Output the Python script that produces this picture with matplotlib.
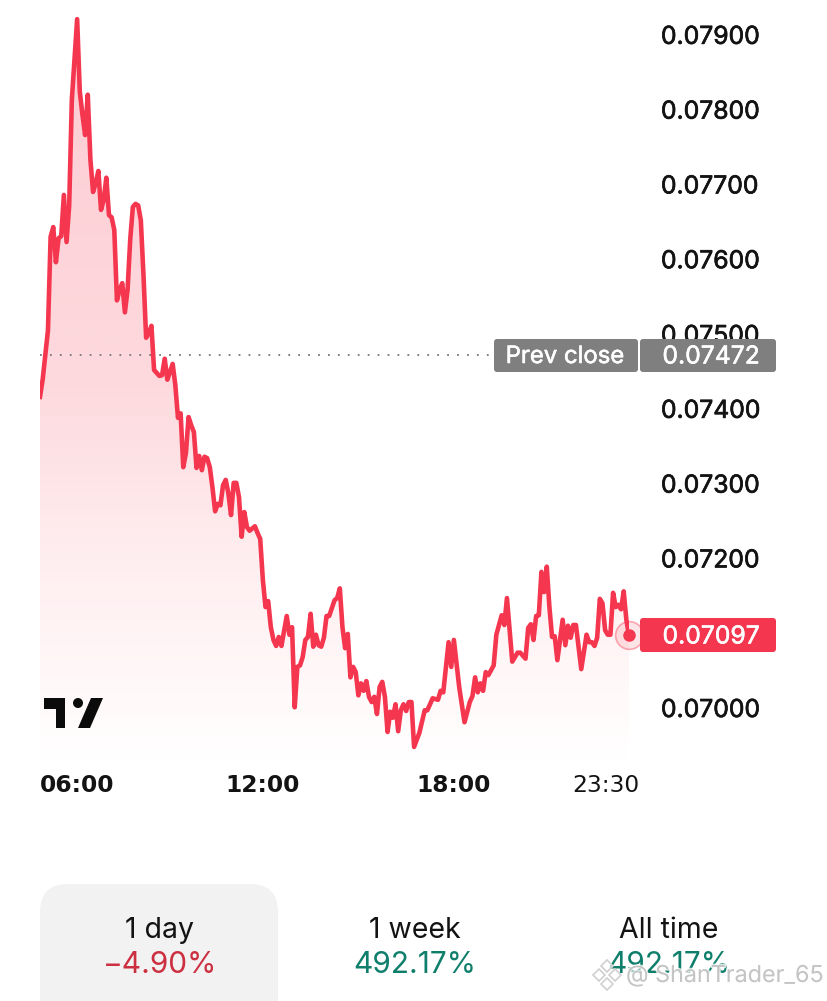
import numpy as np
import matplotlib
matplotlib.use("Agg")
import matplotlib.pyplot as plt
from matplotlib.patches import FancyBboxPatch, Polygon, Circle, Rectangle
from matplotlib.colors import LinearSegmentedColormap
import matplotlib.patheffects as pe

# 5 minute bars, counted from 05:00
bars = [0, 1, 3, 4, 5, 6, 7, 8, 9, 10, 11, 12, 13, 14, 15, 16, 17, 18, 19, 20,
        21, 22, 23, 24, 25, 26, 27, 28, 29, 30, 31, 32, 33, 34, 35, 36, 37, 38, 39, 40,
        41, 42, 43, 44, 45, 46, 47, 48, 50, 51, 52, 53, 54, 55, 56, 57, 58, 59, 60, 61,
        62, 63, 64, 65, 66, 67, 68, 69, 70, 71, 72, 73, 74, 75, 76, 77, 78, 79, 81, 82,
        83, 84, 85, 86, 87, 88, 89, 90, 91, 93, 94, 95, 96, 97, 98, 99, 100, 101, 102, 103,
        104, 105, 106, 107, 108, 109, 111, 112, 113, 114, 115, 116, 117, 118, 119, 120, 121, 122, 123, 124,
        125, 126, 127, 128, 129, 130, 131, 132, 133, 134, 135, 136, 137, 138, 139, 140, 141, 143, 145, 146,
        148, 150, 151, 152, 154, 155, 156, 158, 160, 162, 163, 164, 165, 166, 167, 168, 169, 171, 172, 174,
        175, 176, 178, 180, 181, 183, 184, 185, 186, 187, 188, 189, 190, 191, 192, 193, 194, 195, 197, 198,
        199, 200, 201, 202, 204, 206, 207, 208, 209, 210, 211, 212, 213, 214, 215, 216, 217, 218, 219, 220,
        221, 222]
prices = [.07416, .07439, .07505, .07630, .07643, .07596, .07628, .07631, .07686, .07623,
          .07672, .07813, .07866, .07921, .07824, .07793, .07766, .07820, .07733, .07690,
          .07702, .07718, .07666, .07679, .07709, .07659, .07656, .07639, .07545, .07559,
          .07568, .07529, .07559, .07626, .07670, .07674, .07672, .07652, .07579, .07495,
          .07501, .07511, .07452, .07448, .07444, .07445, .07467, .07439, .07460, .07432,
          .07388, .07394, .07322, .07341, .07389, .07378, .07369, .07321, .07337, .07318,
          .07336, .07334, .07322, .07295, .07263, .07273, .07271, .07298, .07305, .07287,
          .07258, .07301, .07301, .07282, .07229, .07262, .07242, .07237, .07243, .07234,
          .07226, .07171, .07135, .07143, .07108, .07091, .07083, .07095, .07083, .07123,
          .07098, .07108, .07001, .07055, .07057, .07068, .07091, .07095, .07126, .07082,
          .07098, .07084, .07082, .07094, .07123, .07123, .07144, .07147, .07160, .07108,
          .07080, .07099, .07041, .07055, .07048, .07017, .07033, .07023, .07036, .07015,
          .07008, .07015, .06992, .07028, .07035, .07015, .06968, .06995, .06987, .07005,
          .06969, .06997, .07005, .06996, .07008, .07008, .06948, .06967, .06997, .06997,
          .07013, .07011, .07023, .07021, .07088, .07055, .07091, .07028, .06981, .07008,
          .07016, .07041, .07021, .07033, .07023, .07048, .07044, .07057, .07098, .07124,
          .07111, .07147, .07062, .07074, .07074, .07066, .07107, .07112, .07091, .07123,
          .07124, .07182, .07155, .07189, .07135, .07095, .07096, .07064, .07118, .07084,
          .07110, .07094, .07111, .07111, .07052, .07098, .07088, .07088, .07083, .07094,
          .07146, .07140, .07104, .07098, .07098, .07154, .07135, .07138, .07132, .07156,
          .07118, .07097]
prev_close = 0.07472
last_price = 0.07097

y_ticks = [0.07000, 0.07200, 0.07300, 0.07400, 0.07500, 0.07600, 0.07700, 0.07800, 0.07900]
time_labels = ["06:00", "12:00", "18:00", "23:30"]
periods = ["1 day", "1 week", "All time"]
changes = ["\u22124.90%", "492.17%", "492.17%"]

RED = "#f5364f"
W, H = 828, 1001
plt.rcParams["font.family"] = ["Inter", "DejaVu Sans"]

minutes = 300 + 5 * np.array(bars)
prices = np.array(prices)

fig = plt.figure(figsize=(W / 100, H / 100), dpi=100, facecolor="white")
ax = fig.add_axes([40 / W, (H - 760) / H, 589 / W, 760 / H])
ax.set_xlim(300, 1410)
ax.set_ylim(0.069305, 0.079466)
for s in ax.spines.values():
    s.set_visible(False)

# area under the line fades out to white
cmap = LinearSegmentedColormap.from_list(
    "fade", [(0, "#fdccd3"), (0.5, "#fdd9dd"), (0.75, "#ffeff1"), (0.93, "#fffafa"), (1, "#ffffff")])
grad = ax.imshow(np.linspace(0, 1, 256).reshape(-1, 1), cmap=cmap, aspect="auto",
                 extent=[300, 1410, 0.069305, 0.079466], origin="upper", zorder=1)
area = ax.fill_between(minutes, prices, 0.069305, color="none")
grad.set_clip_path(area.get_paths()[0], transform=ax.transData)

ax.plot([300, 1157], [prev_close, prev_close], color="#777777", lw=1.3,
        linestyle=(0, (1, 4.5)), zorder=2)
ax.plot(minutes, prices, color=RED, lw=3.3, solid_joinstyle="round", zorder=3)
ax.plot([1410], [last_price], "o", ms=20, mfc="#f5364f22", mec="#f5364f66", mew=1.2,
        clip_on=False, zorder=4)
ax.plot([1410], [last_price], "o", ms=8, color=RED, clip_on=False, zorder=5)

ax.yaxis.tick_right()
ax.set_yticks(y_ticks, [f"{t:.5f}" for t in y_ticks])
ax.tick_params(axis="y", length=0, pad=23, labelsize=17.8, labelcolor="#131313")
thick = [pe.withStroke(linewidth=0.5, foreground="#131313")]
for lb in ax.get_yticklabels():
    lb.set_path_effects(thick)
ax.set_xticks([])

# time labels
trans = ax.get_xaxis_transform()
offsets = [(-32, "left", "bold"), (0, "center", "bold"), (0, "center", "bold"), (10, "right", "normal")]
for lbl, t, (dx, ha, wt) in zip(time_labels, [360, 720, 1080, 1410], offsets):
    ax.annotate(lbl, (t, 0), xycoords=trans, xytext=(dx, -26), textcoords="offset pixels",
                ha=ha, va="center", fontsize=16.8, fontweight=wt, color="#131313",
                family="DejaVu Sans", annotation_clip=False)

# overlay in pixel coordinates for the tags, logo and tabs
ov = fig.add_axes([0, 0, 1, 1])
ov.set_xlim(0, W)
ov.set_ylim(H, 0)
ov.axis("off")
ov.patch.set_alpha(0)


def tag(x0, x1, y0, y1, color):
    ov.add_patch(FancyBboxPatch((x0 + 3, y0 + 3), x1 - x0 - 6, y1 - y0 - 6,
                                boxstyle="round,pad=3,rounding_size=3", fc=color, ec="none"))


tag(494, 638, 339, 372, "#7f7f7f")
tag(640, 776, 339, 372, "#7f7f7f")
tag(640, 776, 618, 652, RED)
white = [pe.withStroke(linewidth=0.4, foreground="white")]
ov.text(565, 357, "Prev close", color="white", fontsize=17.2, ha="center", va="center", path_effects=white)
ov.text(711, 357, f"{prev_close:.5f}", color="white", fontsize=17.8, ha="center", va="center", path_effects=white)
ov.text(711, 637, f"{last_price:.5f}", color="white", fontsize=17.8, ha="center", va="center", path_effects=white)

# TradingView mark
ov.add_patch(Polygon([(44, 698), (65, 698), (65, 728), (56, 728), (56, 709), (44, 709)], fc="#0b0b0b", ec="none"))
ov.add_patch(Circle((78, 703), 5, fc="#0b0b0b", ec="none"))
ov.add_patch(Polygon([(91, 698), (103, 698), (90, 728), (78, 728)], fc="#0b0b0b", ec="none"))

# period tabs
pill = FancyBboxPatch((40, 884), 238, 160, boxstyle="round,pad=0,rounding_size=28", fc="#f2f2f2", ec="none")
ov.add_patch(pill)
pill.set_clip_path(Rectangle((0, 0), W, H, transform=ov.transData))
for lbl, chg, cx, col in zip(periods, changes, [160, 415, 669], ["#cc2f40", "#0f7f6c", "#0f7f6c"]):
    ov.text(cx, 930, lbl, ha="center", va="center", fontsize=20.5, color="#131313")
    ov.text(cx, 965, chg, ha="center", va="center", fontsize=21.5, color=col)

# watermark
stroke = [pe.withStroke(linewidth=2, foreground="#ffffffcc")]
ov.text(626, 976, "@ ShanTrader_65", ha="left", va="center", fontsize=16.8, color="#c4c4c4",
        path_effects=stroke, zorder=6)
for cx, cy in [(607, 966), (599, 975), (615, 975), (607, 984)]:
    ov.add_patch(Polygon([(cx, cy - 6), (cx + 6, cy), (cx, cy + 6), (cx - 6, cy)], fc="#ffffffaa", ec="#d0d0d0",
                         lw=1.2, zorder=6))

fig.savefig("out.png", dpi=100)
